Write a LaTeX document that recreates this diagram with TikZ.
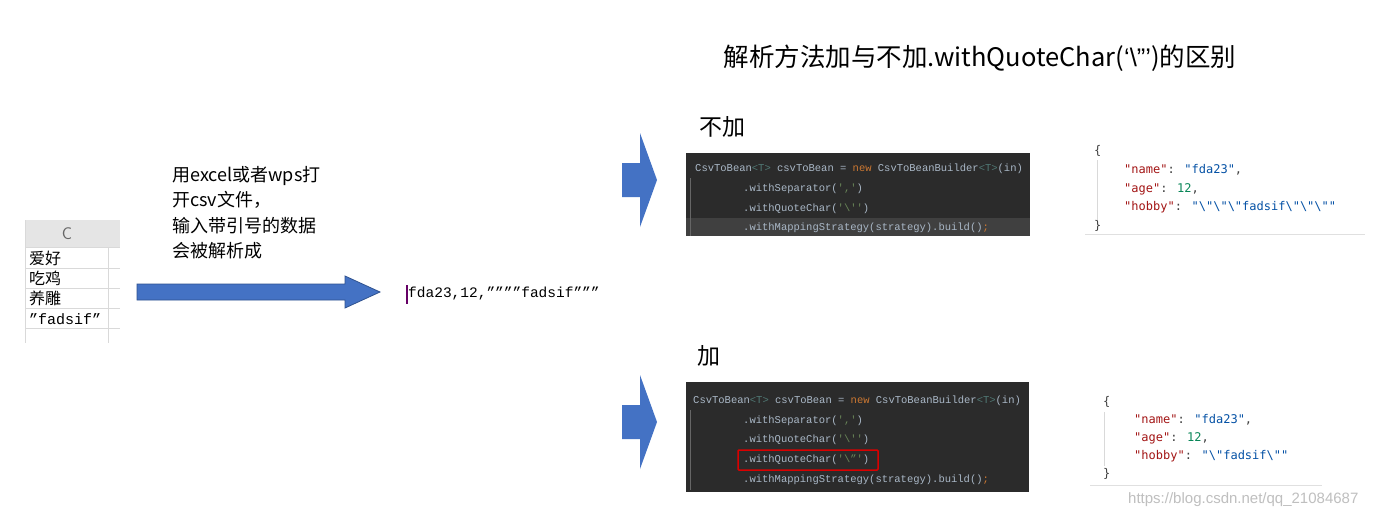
\documentclass[tikz,border=0pt]{standalone}
\usepackage{fontspec}
\newfontfamily\cjk{Noto Sans CJK SC}
\newfontfamily\codef{Liberation Mono}
\newfontfamily\jsonf{DejaVu Sans Mono}
\newfontfamily\wm{Liberation Sans}
\definecolor{codebg}{HTML}{2B2B2B}
\definecolor{codefg}{HTML}{A9B7C6}
\definecolor{kw}{HTML}{CC7832}
\definecolor{strc}{HTML}{6A8759}
\definecolor{tcol}{HTML}{507874}
\definecolor{blu}{HTML}{4472C4}
\definecolor{bluedge}{HTML}{2F528F}
\definecolor{jkey}{HTML}{A31515}
\definecolor{jstr}{HTML}{0451A5}
\definecolor{jnum}{HTML}{098658}
\tikzset{
 codeline/.style={anchor=west,inner sep=0pt,font=\codef\fontsize{10.5}{12}\selectfont,text=codefg},
 jline/.style={anchor=west,inner sep=0pt,font=\jsonf\fontsize{12}{14}\selectfont,text=black!75},
 cjktext/.style={inner sep=0pt,font=\cjk\fontsize{19}{23}\selectfont},
 blockarrow/.style={fill=blu,draw=bluedge,line width=0.8pt},
 cell/.style={draw=black!15,line width=0.8pt}
}
\begin{document}
\begin{tikzpicture}[x=1pt,y=-1pt]
\useasboundingbox (0,0) rectangle (1390,520);
\fill[white] (0,0) rectangle (1390,520);
% title
\node[cjktext,font=\cjk\fontsize{25.5}{29}\selectfont] (title) at (980,58) {解析方法加与不加.withQuoteChar({\wm ‘\textbackslash”’})的区别};
\node[cjktext,font=\cjk\fontsize{23}{27}\selectfont,anchor=west] (bujia) at (699,127) {不加};
\node[cjktext,font=\cjk\fontsize{23}{27}\selectfont,anchor=west] (jia) at (697,356) {加};
% spreadsheet
\fill[black!10] (25,220) rectangle (120,247);
\node[font=\sffamily\fontsize{17}{20}\selectfont,text=black!60] (hc) at (67,234) {C};
\draw[cell] (25,220) -- (25,343);
\draw[cell] (108,247) -- (108,343);
\foreach \y in {247,268,288,308,328} {\draw[cell] (25,\y) -- (120,\y);}
\node[cjktext,anchor=west,font=\cjk\fontsize{16}{18}\selectfont] (r1) at (29,258) {爱好};
\node[cjktext,anchor=west,font=\cjk\fontsize{16}{18}\selectfont] (r2) at (29,278) {吃鸡};
\node[cjktext,anchor=west,font=\cjk\fontsize{16}{18}\selectfont] (r3) at (29,298) {养雕};
\node[anchor=west,inner sep=0pt,font=\codef\fontsize{15}{18}\selectfont] (r4) at (29,319) {”fadsif”};
% big arrow
\draw[blockarrow] (137,284) -- (345,284) -- (345,276) -- (380,292) -- (345,308) -- (345,300) -- (137,300) -- cycle;
\node[cjktext,anchor=north west,align=left,font=\cjk\fontsize{18}{25.5}\selectfont] (desc) at (172,166) {用excel或者wps打\\开csv文件，\\输入带引号的数据\\会被解析成};
\fill[violet!80!black] (406,285) rectangle (408,304);
\node[anchor=west,inner sep=0pt,font=\codef\fontsize{14.5}{18}\selectfont] (csv) at (408,294) {fda23,12,””””fadsif”””};
% small arrows
\foreach \yc in {180,422} {
 \fill[blu] (622,\yc-17) -- (640,\yc-17) -- (640,\yc-47) -- (657,\yc) -- (640,\yc+47) -- (640,\yc+17) -- (622,\yc+17) -- cycle;
}
% code block 1
\fill[codebg] (686,153) rectangle (1030,236);
\fill[black!75] (686,218) rectangle (1030,236);
\draw[black!60] (690,178) -- (690,236);
\node[codeline] (c11) at (695,169) {CsvToBean\textcolor{tcol}{<T>} csvToBean = \textcolor{kw}{new} CsvToBeanBuilder\textcolor{tcol}{<T>}(in)};
\node[codeline] (c12) at (743,189) {.withSeparator(\textcolor{strc}{','})};
\node[codeline] (c13) at (743,209) {.withQuoteChar(\textcolor{strc}{'\textbackslash''})};
\node[codeline] (c14) at (743,228) {.withMappingStrategy(strategy).build()\textcolor{kw}{;}};
% code block 2
\fill[codebg] (686,382) rectangle (1029,492);
\draw[black!60] (690,410) -- (690,490);
\node[codeline] (c21) at (693,401) {CsvToBean\textcolor{tcol}{<T>} csvToBean = \textcolor{kw}{new} CsvToBeanBuilder\textcolor{tcol}{<T>}(in)};
\node[codeline] (c22) at (743,421) {.withSeparator(\textcolor{strc}{','})};
\node[codeline] (c23) at (743,440) {.withQuoteChar(\textcolor{strc}{'\textbackslash''})};
\node[codeline] (c24) at (743,460) {.withQuoteChar(\textcolor{strc}{'\textbackslash”'})};
\node[codeline] (c25) at (743,480) {.withMappingStrategy(strategy).build()\textcolor{kw}{;}};
\draw[red!85!black,line width=1.5pt,rounded corners=1pt] (738,450) rectangle (878,470);
% json 1
\draw[black!15] (1097,160) -- (1097,220);
\draw[black!12] (1085,234) -- (1365,234);
\node[jline] (j11) at (1094,151) {\{};
\node[jline] (j12) at (1124,170) {\textcolor{jkey}{"name"}: \textcolor{jstr}{"fda23"},};
\node[jline] (j13) at (1124,189) {\textcolor{jkey}{"age"}: \textcolor{jnum}{12},};
\node[jline] (j14) at (1124,207) {\textcolor{jkey}{"hobby"}: \textcolor{jstr}{"\textbackslash"\textbackslash"\textbackslash"fadsif\textbackslash"\textbackslash"\textbackslash""}};
\node[jline] (j15) at (1094,226) {\}};
% json 2
\draw[black!15] (1104,412) -- (1104,466);
\draw[black!12] (1090,485) -- (1322,485);
\node[jline] (j21) at (1103,402) {\{};
\node[jline] (j22) at (1134,420) {\textcolor{jkey}{"name"}: \textcolor{jstr}{"fda23"},};
\node[jline] (j23) at (1134,438) {\textcolor{jkey}{"age"}: \textcolor{jnum}{12},};
\node[jline] (j24) at (1134,456) {\textcolor{jkey}{"hobby"}: \textcolor{jstr}{"\textbackslash"fadsif\textbackslash""}};
\node[jline] (j25) at (1103,474) {\}};
\node[anchor=west,inner sep=0pt,font=\wm\fontsize{15}{17}\selectfont,text=black!25] (wmk) at (1128,500) {https://blog.csdn.net/qq\_21084687};
\end{tikzpicture}
\end{document}
